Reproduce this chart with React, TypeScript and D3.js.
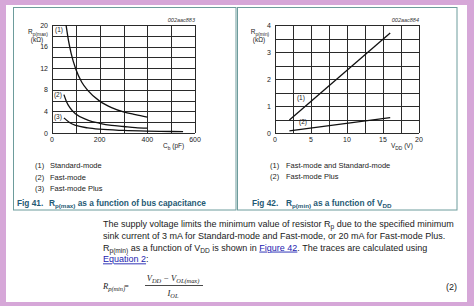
import React, { useEffect, useRef } from 'react';
import * as d3 from 'd3';

// Fig 41 - Rp(max) (kOhm) against bus capacitance Cb (pF)
const capStandard = [59, 70, 80, 100, 125, 150, 200, 250, 300, 350, 400];
const rStandard = [20, 16.9, 14.8, 11.8, 9.4, 7.9, 5.9, 4.7, 3.9, 3.4, 2.95];
const capFast = [50, 60, 75, 100, 150, 200, 250, 300, 350, 400];
const rFast = [7.1, 5.9, 4.7, 3.5, 2.4, 1.8, 1.4, 1.2, 1.0, 0.9];
const capPlus = [50, 75, 100, 150, 200, 300, 400, 450, 500, 550];
const rPlus = [2.8, 1.9, 1.4, 0.95, 0.7, 0.47, 0.35, 0.31, 0.28, 0.26];
const fig41Legend = ['Standard-mode', 'Fast-mode', 'Fast-mode Plus'];
const capTicks = [0, 200, 400, 600];
const rmaxTicks = [0, 4, 8, 12, 16, 20];

// Fig 42 - Rp(min) (kOhm) against VDD (V)
const vddPoints = [2, 16];
const rminStdFast = [0.48, 3.7];
const rminPlus = [0.08, 0.57];
const fig42Legend = ['Fast-mode and Standard-mode', 'Fast-mode Plus'];
const vddTicks = [0, 5, 10, 15, 20];
const rminTicks = [0, 1, 2, 3, 4];

const W = 474;
const H = 306;
const SANS = "'Liberation Sans', Arial, sans-serif";
const SERIF = "'Liberation Serif', 'Times New Roman', serif";
const BOX = '#6d9c9c';
const CAPTION = '#1f5a74';
const LINK = '#1c22b0';

type Part = [string, boolean?];

// appends text pieces, the flagged ones as subscripts
function rich(sel: any, parts: Part[], size: number) {
  let down = false;
  parts.forEach(([t, sub]) => {
    const ts = sel.append('tspan').text(t);
    if (sub && !down) { ts.attr('dy', size * 0.28).attr('font-size', size * 0.75); down = true; }
    else if (sub) ts.attr('font-size', size * 0.75);
    else if (down) { ts.attr('dy', -size * 0.28); down = false; }
  });
  return sel;
}

const App: React.FC = () => {
  const svgRef = useRef<SVGSVGElement>(null);

  useEffect(() => {
    document.body.style.margin = '0';
    if (!svgRef.current) return;
    const svg = d3.select(svgRef.current);
    svg.selectAll('*').remove();

    // page frame
    svg.append('rect').attr('width', W).attr('height', H).attr('fill', '#d6a7d8');
    svg.append('rect').attr('x', 6).attr('y', 5).attr('width', 461).attr('height', 297).attr('fill', '#fff');
    svg.append('rect').attr('x', 13.5).attr('y', 7.5).attr('width', 222.5).attr('height', 202.5)
      .attr('fill', 'none').attr('stroke', BOX);
    svg.append('rect').attr('x', 237.5).attr('y', 7.5).attr('width', 219.5).attr('height', 202.5)
      .attr('fill', 'none').attr('stroke', BOX);

    const drawGrid = (
      x: d3.ScaleLinear<number, number>, y: d3.ScaleLinear<number, number>,
      xs: number[], ys: number[], xt: number[], yt: number[], code: string
    ) => {
      const g = svg.append('g');
      const [x0, x1] = x.range();
      const [y0, y1] = y.range();
      g.selectAll('.vg').data(xs).enter().append('line')
        .attr('x1', d => Math.round(x(d)) + 0.5).attr('x2', d => Math.round(x(d)) + 0.5)
        .attr('y1', y0).attr('y2', y1).attr('stroke', '#2a2a2a').attr('stroke-width', 1);
      g.selectAll('.hg').data(ys).enter().append('line')
        .attr('y1', d => Math.round(y(d)) + 0.5).attr('y2', d => Math.round(y(d)) + 0.5)
        .attr('x1', x0).attr('x2', x1).attr('stroke', '#2a2a2a').attr('stroke-width', 1);
      g.selectAll('.xt').data(xt).enter().append('text')
        .attr('x', d => x(d)).attr('y', y0 + 9).attr('text-anchor', 'middle')
        .attr('font-family', SANS).attr('font-size', 7).attr('fill', '#222').text(d => d);
      g.selectAll('.yt').data(yt).enter().append('text')
        .attr('x', x0 - 4).attr('y', d => y(d) + 2.5).attr('text-anchor', 'end')
        .attr('font-family', SANS).attr('font-size', 7).attr('fill', '#222').text(d => d);
      g.append('text').attr('x', x1).attr('y', y1 - 3).attr('text-anchor', 'end')
        .attr('font-family', SANS).attr('font-size', 5.5).attr('font-style', 'italic')
        .attr('fill', '#333').text(code);
    };

    const curve = (x: any, y: any, xv: number[], yv: number[]) => {
      const line = d3.line<number>().x((d, i) => x(xv[i])).y(d => y(d)).curve(d3.curveMonotoneX);
      svg.append('path').attr('d', line(yv) || '').attr('fill', 'none')
        .attr('stroke', '#111').attr('stroke-width', 1.3);
    };

    const label = (x: number, y: number, t: string, anchor = 'middle') =>
      svg.append('text').attr('x', x).attr('y', y).attr('text-anchor', anchor)
        .attr('font-family', SANS).attr('font-size', 6.5).attr('fill', '#222').text(t);

    // ---- Fig 41 ----
    const x1 = d3.scaleLinear().domain([0, 600]).range([52, 195]);
    const y1 = d3.scaleLinear().domain([0, 20]).range([133, 25]);
    drawGrid(x1, y1, d3.range(0, 601, 100), d3.range(0, 21, 2), capTicks, rmaxTicks, '002aac883');
    curve(x1, y1, capStandard, rStandard);
    curve(x1, y1, capFast, rFast);
    curve(x1, y1, capPlus, rPlus);
    label(x1(capStandard[0]) - 3, y1(rStandard[0]) + 7, '(1)', 'end');
    label(x1(capFast[0]) - 2, y1(rFast[0]) + 2, '(2)', 'end');
    label(x1(capPlus[0]) - 2, y1(rPlus[0]) + 1, '(3)', 'end');

    rich(svg.append('text').attr('x', 38).attr('y', 34).attr('text-anchor', 'middle')
      .attr('font-family', SANS).attr('font-size', 6.5).attr('fill', '#222'),
      [['R'], ['p(max)', true]], 6.5);
    svg.append('text').attr('x', 37).attr('y', 42).attr('text-anchor', 'middle')
      .attr('font-family', SANS).attr('font-size', 6.5).attr('fill', '#222').text('(kΩ)');
    rich(svg.append('text').attr('x', 163).attr('y', 148)
      .attr('font-family', SANS).attr('font-size', 6.5).attr('fill', '#222'),
      [['C'], ['b', true], [' (pF)']], 6.5);

    fig41Legend.forEach((t, i) => {
      const yy = 168 + i * 11.5;
      svg.append('text').attr('x', 35).attr('y', yy).attr('font-family', SANS)
        .attr('font-size', 7.5).attr('fill', '#222').text(`(${i + 1})`);
      svg.append('text').attr('x', 50).attr('y', yy).attr('font-family', SANS)
        .attr('font-size', 7.5).attr('fill', '#222').text(t);
    });
    const cap41 = svg.append('text').attr('y', 206).attr('font-family', SANS)
      .attr('font-size', 8.3).attr('font-weight', 'bold').attr('fill', CAPTION);
    cap41.append('tspan').attr('x', 17).text('Fig 41.');
    rich(cap41.append('tspan').attr('x', 49), [['R'], ['p(max)', true], [' as a function of bus capacitance']], 8.3);

    // ---- Fig 42 ----
    const x2 = d3.scaleLinear().domain([0, 20]).range([275, 419]);
    const y2 = d3.scaleLinear().domain([0, 4]).range([133, 25]);
    drawGrid(x2, y2, d3.range(0, 20.1, 2.5), d3.range(0, 4.01, 0.5), vddTicks, rminTicks, '002aac884');
    curve(x2, y2, vddPoints, rminStdFast);
    curve(x2, y2, vddPoints, rminPlus);
    label(x2(3.6), y2(1.23), '(1)');
    label(x2(3.9), y2(0.34), '(2)');

    rich(svg.append('text').attr('x', 260).attr('y', 34).attr('text-anchor', 'middle')
      .attr('font-family', SANS).attr('font-size', 6.5).attr('fill', '#222'),
      [['R'], ['p(min)', true]], 6.5);
    svg.append('text').attr('x', 259).attr('y', 42).attr('text-anchor', 'middle')
      .attr('font-family', SANS).attr('font-size', 6.5).attr('fill', '#222').text('(kΩ)');
    rich(svg.append('text').attr('x', 391).attr('y', 148)
      .attr('font-family', SANS).attr('font-size', 6.5).attr('fill', '#222'),
      [['V'], ['DD', true], [' (V)']], 6.5);

    fig42Legend.forEach((t, i) => {
      const yy = 168 + i * 11;
      svg.append('text').attr('x', 270).attr('y', yy).attr('font-family', SANS)
        .attr('font-size', 7.5).attr('fill', '#222').text(`(${i + 1})`);
      svg.append('text').attr('x', 286).attr('y', yy).attr('font-family', SANS)
        .attr('font-size', 7.5).attr('fill', '#222').text(t);
    });
    const cap42 = svg.append('text').attr('y', 206).attr('font-family', SANS)
      .attr('font-size', 8.3).attr('font-weight', 'bold').attr('fill', CAPTION);
    cap42.append('tspan').attr('x', 252).text('Fig 42.');
    rich(cap42.append('tspan').attr('x', 286), [['R'], ['p(min)', true], [' as a function of V'], ['DD', true]], 8.3);

    // ---- body text ----
    const para = (yy: number, parts: [string, string?][]) => {
      const t = svg.append('text').attr('x', 103).attr('y', yy).attr('font-family', SANS)
        .attr('font-size', 9).attr('fill', '#1a1a1a');
      let down = false;
      parts.forEach(([s, kind]) => {
        const ts = t.append('tspan').text(s);
        if (kind === 'sub') { ts.attr('font-size', 6.6); if (!down) ts.attr('dy', 2.4); down = true; }
        else if (down) { ts.attr('dy', -2.4); down = false; }
        if (kind === 'link') ts.attr('fill', LINK).attr('text-decoration', 'underline');
      });
    };
    para(227, [['The supply voltage limits the minimum value of resistor R'], ['p', 'sub'], [' due to the specified minimum']]);
    para(238.8, [['sink current of 3 mA for Standard-mode and Fast-mode, or 20 mA for Fast-mode Plus.']]);
    para(250.6, [['R'], ['p(min)', 'sub'], [' as a function of V'], ['DD', 'sub'], [' is shown in '], ['Figure 42', 'link'], ['. The traces are calculated using']]);
    para(262.4, [['Equation 2', 'link'], [':']]);

    // equation (2)
    const eq = (x: number, y: number, parts: Part[], anchor = 'start') =>
      rich(svg.append('text').attr('x', x).attr('y', y).attr('text-anchor', anchor)
        .attr('font-family', SERIF).attr('font-style', 'italic').attr('font-size', 8.5)
        .attr('fill', '#1a1a1a'), parts, 8.5);
    eq(103, 289, [['R'], ['p(min)', true]]);
    svg.append('text').attr('x', 124).attr('y', 289).attr('font-family', SERIF)
      .attr('font-size', 8.5).attr('fill', '#1a1a1a').text('=');
    eq(173, 281, [['V'], ['DD', true], [' − V'], ['OL(max)', true]], 'middle');
    svg.append('line').attr('x1', 145).attr('x2', 203).attr('y1', 285.5).attr('y2', 285.5)
      .attr('stroke', '#1a1a1a').attr('stroke-width', 0.8);
    eq(173, 295.5, [['I'], ['OL', true]], 'middle');
    svg.append('text').attr('x', 457).attr('y', 290).attr('text-anchor', 'end')
      .attr('font-family', SANS).attr('font-size', 9).attr('fill', '#1a1a1a').text('(2)');
  }, []);

  return <svg ref={svgRef} width={W} height={H} style={{ display: 'block' }} />;
};

export default App;
